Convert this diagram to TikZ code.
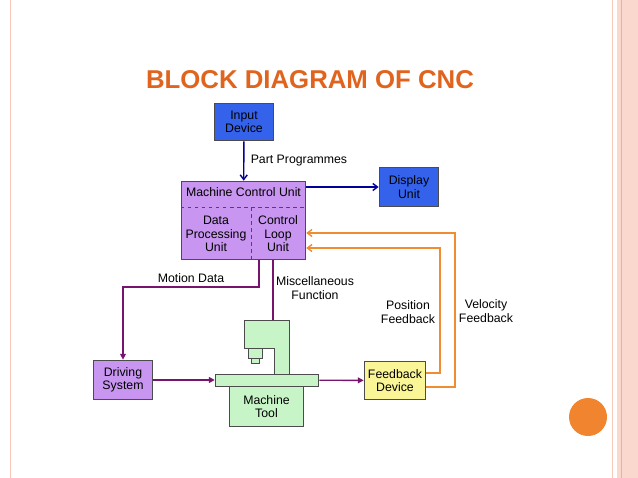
\documentclass[tikz,border=0pt]{standalone}
\usepackage{fontspec}
\setmainfont{Liberation Sans}
\usetikzlibrary{positioning,calc,arrows.meta}
\definecolor{inblue}{RGB}{52,98,235}
\definecolor{mcupurple}{RGB}{200,150,240}
\definecolor{linepurple}{RGB}{120,20,110}
\definecolor{tool}{RGB}{200,245,200}
\definecolor{fbyellow}{RGB}{250,245,150}
\definecolor{fborange}{RGB}{240,140,50}
\definecolor{slide}{RGB}{250,200,185}
\definecolor{titleorange}{RGB}{225,100,30}
\begin{document}
\begin{tikzpicture}[x=0.03cm,y=-0.03cm,
    font=\fontsize{10.5}{11.5}\selectfont,
    blk/.style={draw=black!70,thick,align=center,inner sep=1pt},
    inblk/.style={blk,fill=inblue},
    ctl/.style={very thick,linepurple,-{Triangle[length=5pt,width=5pt]}},
    fb/.style={very thick,fborange,-{Straight Barb[length=4pt,width=6pt]}},
    blue arrow/.style={very thick,blue!60!black,-{Straight Barb[length=4pt,width=6pt]}}]

    % slide background
    \fill[white] (0,0) rectangle (638,478);
    \useasboundingbox (0,0) rectangle (638,478);
    \draw[slide,thick] (10,0) -- (10,478);
    \fill[slide!70] (617,0) rectangle (638,478);
    \draw[slide,thick] (612,0) -- (612,478);
    \draw[slide!90!black] (621,0) -- (621,478);
    \fill[fborange!95!red] (588,417) circle (19);

    \node[titleorange,font=\fontsize{22}{24}\selectfont\bfseries] (title) at (310,80) {BLOCK DIAGRAM OF CNC};

    % blocks
    \node[inblk,minimum width=60*0.85pt,minimum height=38*0.85pt] (input) at (244,122) {Input\\Device};
    \node[inblk,minimum width=60*0.85pt,minimum height=39*0.85pt] (display) at (409,187) {Display\\Unit};
    \node[blk,fill=mcupurple,minimum width=125*0.85pt,minimum height=79*0.85pt] (mcu) at (243.5,220.5) {};
    \node[anchor=north] (mcutext) at (243.5,183) {Machine Control Unit};
    \draw[dashed,thick,black!70] (mcu.west|-0,207) -- (mcu.east|-0,207) coordinate (dash);
    \draw[dashed,thick,black!70] (251,207) -- (251,260);
    \node[align=center,inner sep=0pt] (dpu) at (216,234) {Data\\Processing\\Unit};
    \node[align=center,inner sep=0pt] (clu) at (278,234) {Control\\Loop\\Unit};
    \node[blk,fill=mcupurple,minimum width=60*0.85pt,minimum height=40*0.85pt] (drive) at (123,380) {Driving\\System};
    \node[blk,fill=fbyellow,minimum width=62*0.85pt,minimum height=39*0.85pt] (feedback) at (395,380.5) {Feedback\\Device};

    % machine tool
    \begin{scope}[draw=black!70,thick,fill=tool]
        \filldraw (244,320) -- (289,320) -- (289,374) -- (274,374) -- (274,348) -- (244,348) -- cycle;
        \filldraw (248,348) rectangle (262,358);
        \filldraw (251,358) rectangle (259,363);
        \node[blk,fill=tool,minimum width=104*0.85pt,minimum height=12*0.85pt] (table) at (267,380) {};
        \node[blk,fill=tool,minimum width=75*0.85pt,minimum height=40*0.85pt,anchor=north] (base) at (266.5,386) {Machine\\Tool};
    \end{scope}

    % connectors
    \draw[blue arrow] (input) -- node[right,black,xshift=2pt] {Part Programmes} (mcu);
    \draw[blue arrow] (mcu.east|-display) -- (display);
    \draw[ctl] (259,260) |- (123,287) node[pos=0.75,above,black] {Motion Data} -- (drive);
    \draw[very thick,linepurple] (273,260) -- (273,320);
    \node[align=center] (misc) at (315,288) {Miscellaneous\\Function};
    \draw[ctl] (drive) -- (table);
    \draw[ctl] (table) -- (feedback);
    \draw[fb] (feedback.east|-0,373) -| (440,248) -- (mcu.east|-0,248);
    \draw[fb] (feedback.east|-0,387) -| (455,233) -- (mcu.east|-0,233);
    \node[align=center] (pos) at (408,312) {Position\\Feedback};
    \node[align=center] (vel) at (486,311) {Velocity\\Feedback};
\end{tikzpicture}
\end{document}
